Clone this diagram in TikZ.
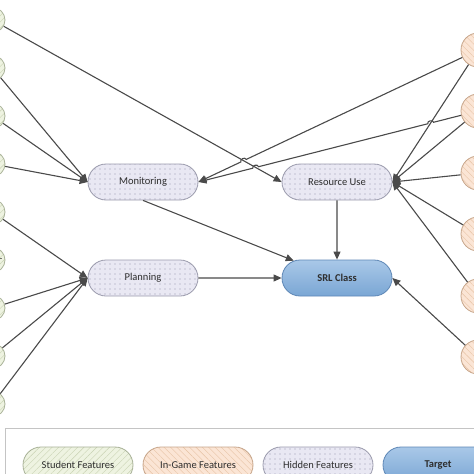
\documentclass[tikz,border=0pt]{standalone}
\usepackage{fontspec}
\setmainfont{Carlito}
\usetikzlibrary{shapes.misc,arrows.meta,patterns.meta,intersections,calc}
\definecolor{edgeC}{HTML}{4A4A4A}
\definecolor{txt}{HTML}{2E2E2E}
\definecolor{stuF}{HTML}{EEF3E1}
\definecolor{stuH}{HTML}{C8D2B2}
\definecolor{stuB}{HTML}{A9B298}
\definecolor{ingF}{HTML}{FBE5D5}
\definecolor{ingH}{HTML}{E6C2A4}
\definecolor{ingB}{HTML}{C7A68B}
\definecolor{hidF}{HTML}{E9E8F3}
\definecolor{hidD}{HTML}{9A99B2}
\definecolor{hidB}{HTML}{9B9BAD}
\definecolor{tgtT}{HTML}{A9C8E8}
\definecolor{tgtBt}{HTML}{7AA6D4}
\definecolor{tgtB}{HTML}{5E87B6}
\definecolor{legB}{HTML}{C4C4C4}
\begin{document}
\begin{tikzpicture}[x=1pt,y=-1pt,
  every node/.style={font=\fontsize{10.5}{12}\selectfont, text=txt},
  pill/.style={rounded rectangle, line width=0.8pt, minimum width=110pt, minimum height=36pt, inner sep=0pt},
  hid/.style={pill, draw=hidB, preaction={fill=hidF}, pattern={Dots[radius=0.55pt,distance=5pt]}, pattern color=hidD},
  tgt/.style={pill, draw=tgtB, top color=tgtT, bottom color=tgtBt, font=\fontsize{10.5}{12}\selectfont\bfseries},
  stuP/.style={draw=stuB, preaction={fill=stuF}, pattern={Lines[angle=45,distance=4.5pt,line width=0.4pt]}, pattern color=stuH},
  ingP/.style={draw=ingB, preaction={fill=ingF}, pattern={Lines[angle=-45,distance=4.5pt,line width=0.4pt]}, pattern color=ingH},
  stu/.style={circle, stuP, line width=0.8pt, minimum size=25pt, inner sep=0pt},
  ing/.style={circle, ingP, line width=0.8pt, minimum size=34pt, inner sep=0pt},
  link/.style={draw=edgeC, line width=1.1pt, -{Triangle[length=8pt,width=7pt]}},
  hop/.style={bend right=90, looseness=1.3}
]
\clip (0,0) rectangle (474,474);
\fill[white] (0,0) rectangle (474,474);

% left column (student features)
\foreach \i/\y in {1/20,2/68,3/116,4/164,5/212,6/260,7/308,8/356,9/404}
  \node[stu] (C\i) at (-7.5,\y) {};
\node[font=\fontsize{9}{10}\selectfont] (dash) at (1,260) {-};

% right column (in-game features)
\foreach \i/\y in {1/50,2/111,3/173,4/234,5/296,6/357}
  \node[ing] (R\i) at (478,\y) {};

% hidden and target nodes
\node[hid] (Mon)  at (143,182) {Monitoring};
\node[hid] (RU)   at (337,182) {Resource Use};
\node[hid] (Plan) at (143,278) {Planning};
\node[tgt] (SRL)  at (337,278) {SRL Class};

% plain connectors
\draw[link] (C1) -- (RU.west);
\foreach \i in {2,3,4} \draw[link] (C\i) -- (Mon.west);
\foreach \i in {5,7,8,9} \draw[link] (C\i) -- (Plan.west);
\foreach \i in {1,2,3,4,5} \draw[link] (R\i) -- (RU.east);
\draw[link] (R6) -- (SRL.east);
\draw[link] (Mon.south) -- (SRL);
\draw[link] (RU) -- (SRL);
\draw[link] (Plan) -- (SRL);

% crossings with hops
\path[name path=c1ru] (C1) -- (RU.west);
\path[name path=r1ru] (R1) -- (RU.east);
\path[name path=r1m] (R1) -- (Mon.east);
\path[name path=r2m] (R2) -- (Mon.east);
\path[name intersections={of=r1m and c1ru, by=h1}];
\path[name intersections={of=r2m and c1ru, by=h2}];
\path[name intersections={of=r2m and r1ru, by=h3}];
\draw[link] (R1) -- ($(h1)!3pt!(R1)$) to[hop] ($(h1)!-3pt!(R1)$) -- (Mon.east);
\draw[link] (R2) -- ($(h3)!3pt!(R2)$) to[hop] ($(h3)!-3pt!(R2)$)
  -- ($(h2)!3pt!(R2)$) to[hop] ($(h2)!-3pt!(R2)$) -- (Mon.east);

% legend
\draw[legB, line width=1pt, fill=white] (5,428) rectangle (490,490);
\node[pill, stuP] (LS) at (78,465) {Student Features};
\node[pill, ingP] (LI) at (198,465) {In-Game Features};
\node[hid] (LH) at (318,465) {Hidden Features};
\node[tgt] (LT) at (438,465) {Target};
\end{tikzpicture}
\end{document}
